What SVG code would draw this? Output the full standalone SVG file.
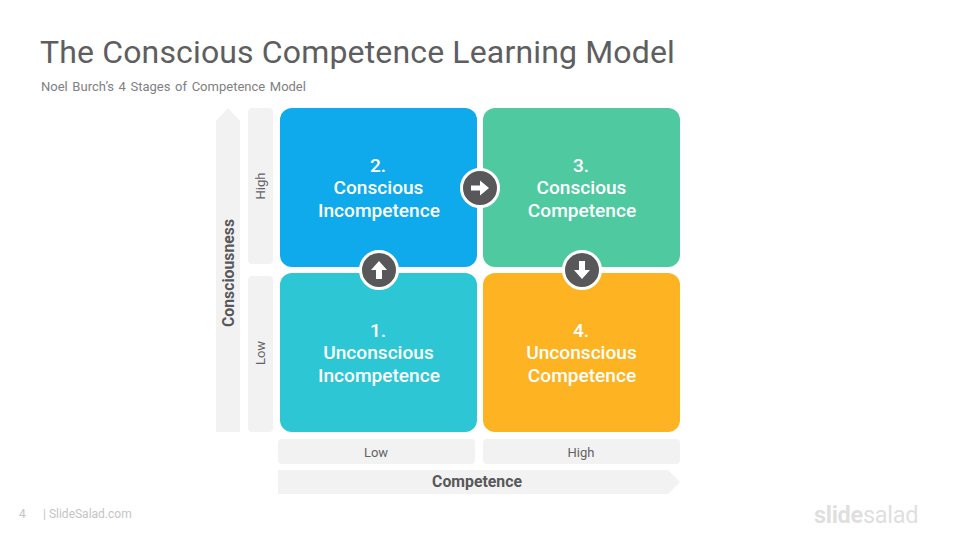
<svg xmlns="http://www.w3.org/2000/svg" width="960" height="540" viewBox="0 0 960 540">
<style>
text{font-family:Roboto,"Liberation Sans",sans-serif}
.q{font-size:19.1px;font-weight:500;fill:#fff;text-anchor:middle}
.bar{fill:#f2f2f3}
.ax{font-size:13px;fill:#636365;text-anchor:middle}
.axb{font-size:15.800px;font-weight:700;fill:#58585a;text-anchor:middle}
.badge{fill:#58585a;stroke:#fff;stroke-width:3}
.ar{fill:#fff}
</style>
<rect width="960" height="540" fill="#fff"/>
<text id="title" x="40" y="63" font-size="32" fill="#5e5e60" letter-spacing="0.15">The Conscious Competence Learning Model</text>
<text id="subtitle" x="41" y="91" font-size="13" fill="#808083" word-spacing="1.400">Noel Burch’s 4 Stages of Competence Model</text>
<g id="axis-y">
<path class="bar" d="M216 432V121L228 108L240 121V432Z"/>
<text class="axb" transform="translate(233.500,273) rotate(-90)">Consciousness</text>
</g>
<g id="y-high"><rect class="bar" x="248" y="108" width="25" height="156" rx="4"/><text class="ax" transform="translate(265,186) rotate(-90)">High</text></g>
<g id="y-low"><rect class="bar" x="248" y="276" width="25" height="156" rx="4"/><text class="ax" transform="translate(265,353) rotate(-90)">Low</text></g>
<g id="x-low"><rect class="bar" x="278" y="439" width="197" height="25" rx="4"/><text class="ax" x="376" y="457">Low</text></g>
<g id="x-high"><rect class="bar" x="483" y="439" width="197" height="25" rx="4"/><text class="ax" x="581" y="457">High</text></g>
<g id="axis-x">
<path class="bar" d="M278 470H668L680 482L668 494H278Z"/>
<text class="axb" x="477" y="486.500">Competence</text>
</g>
<g id="q2"><rect x="280" y="108" width="197" height="159" rx="12" fill="#0eaaeb"/>
<text class="q" x="378" y="172">2.</text><text class="q" x="378.500" y="194">Conscious</text><text class="q" x="379" y="217">Incompetence</text></g>
<g id="q3"><rect x="483" y="108" width="197" height="159" rx="12" fill="#4fc99f"/>
<text class="q" x="581" y="172">3.</text><text class="q" x="581.500" y="194">Conscious</text><text class="q" x="582" y="217">Competence</text></g>
<g id="q1"><rect x="280" y="273" width="197" height="159" rx="12" fill="#2cc6d4"/>
<text class="q" x="378" y="337">1.</text><text class="q" x="378.500" y="359">Unconscious</text><text class="q" x="379" y="382">Incompetence</text></g>
<g id="q4"><rect x="483" y="273" width="197" height="159" rx="12" fill="#fdb322"/>
<text class="q" x="581" y="337">4.</text><text class="q" x="581.500" y="359">Unconscious</text><text class="q" x="582" y="382">Competence</text></g>
<g id="connectors">
<g><circle class="badge" cx="480" cy="188" r="18.500"/><path class="ar" d="M471 185.500H480V180.500L489 188L480 195.500V190.500H471Z"/></g>
<g><circle class="badge" cx="379" cy="270" r="18.500"/><path class="ar" d="M376 279V270H371L379 261L387 270H382V279Z"/></g>
<g><circle class="badge" cx="582" cy="270" r="18.500"/><path class="ar" d="M579 261V270H574L582 279L590 270H585V261Z"/></g>
</g>
<text id="page" x="19" y="518" font-size="12" fill="#c4c4c4">4</text>
<text id="footer" x="43" y="518" font-size="12" fill="#c4c4c4">| SlideSalad.com</text>
<text id="logo" x="814" y="523" font-size="23.500" fill="#dfdfdf" font-family="Lato" letter-spacing="-0.3"><tspan font-weight="700">slide</tspan><tspan>salad</tspan></text>
</svg>
